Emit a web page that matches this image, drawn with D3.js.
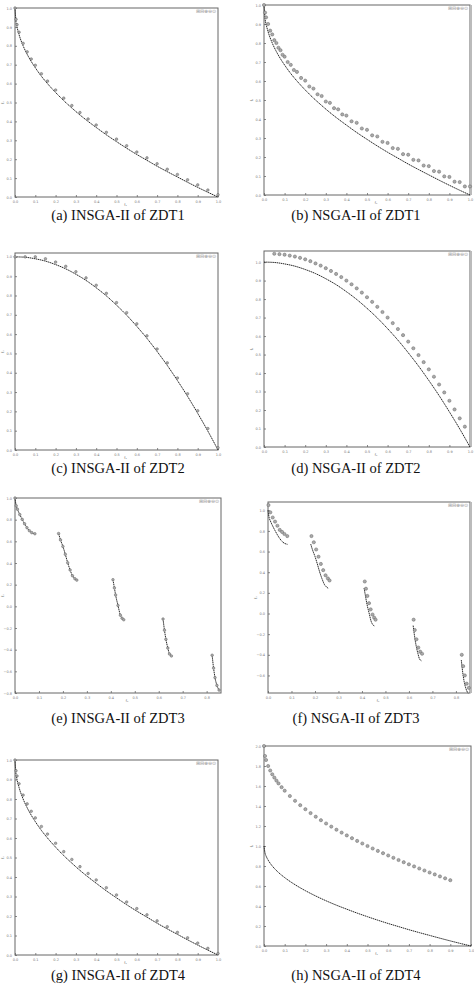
<!DOCTYPE html>
<html>
<head>
<meta charset="utf-8">
<script src="https://cdn.jsdelivr.net/npm/d3@7"></script>
<style>
  body { margin: 0; background: #fff; }
  svg { display: block; }
  .cap { font-family: "Liberation Serif", "DejaVu Serif", serif; font-size: 14.5px; fill: #111; }
  .tick text { font-family: "DejaVu Sans", sans-serif; font-size: 3.5px; fill: #777; }
</style>
</head>
<body>
<svg id="fig" width="474" height="988"></svg>
<script>
// ---- data ----
var zdt1F1 = [0,.005,.01,.02,.04,.06,.08,.1,.13,.16,.2,.24,.28,.32,.36,.4,.45,.5,.55,.6,.65,.7,.75,.8,.85,.9,.95,1]
var zdt1True = [1,.929,.9,.859,.8,.755,.717,.684,.639,.6,.553,.51,.471,.434,.4,.368,.329,.293,.258,.225,.194,.163,.134,.106,.078,.051,.025,0]
var zdt1InsgaF2 = [1,.94,.912,.872,.813,.768,.73,.697,.652,.613,.566,.523,.484,.447,.413,.381,.342,.306,.271,.238,.207,.176,.147,.119,.091,.064,.037,.012]
var zdt1NsgaF2 = [1,.96,.935,.9,.845,.8,.762,.728,.685,.648,.602,.56,.521,.485,.451,.418,.38,.343,.308,.274,.243,.212,.182,.152,.123,.095,.068,.045]
var zdt1NsgaF1b = [.03,.05,.07,.09,.115,.145,.18,.22,.26,.3,.34,.38,.425,.475,.525,.575,.625,.675,.725,.775,.825,.875,.925,.975]
var zdt1NsgaF2b = [.865,.815,.775,.738,.7,.658,.616,.571,.53,.492,.457,.424,.388,.35,.314,.28,.247,.215,.185,.155,.126,.098,.07,.045]
var zdt4InsgaF2 = [1,.945,.918,.878,.82,.775,.737,.703,.659,.62,.573,.53,.49,.453,.418,.385,.345,.308,.272,.238,.206,.175,.145,.116,.088,.061,.034,.008]

var zdt2F1 = [0,.05,.1,.15,.2,.25,.3,.35,.4,.45,.5,.55,.6,.65,.7,.75,.8,.85,.9,.95,1]
var zdt2True = [1,.998,.99,.978,.96,.938,.91,.878,.84,.798,.75,.698,.64,.578,.51,.438,.36,.278,.19,.098,0]
var zdt2InsgaF2 = [1,1.0,1.0,.99,.973,.951,.923,.891,.853,.811,.763,.711,.653,.591,.523,.451,.373,.291,.203,.111,.012]
var zdt2NsgaF2 = [null,1.045,1.04,1.03,1.015,.993,.967,.936,.9,.858,.81,.758,.7,.638,.57,.497,.42,.338,.25,.155,null]
var zdt2NsgaF1b = [.075,.125,.175,.225,.275,.325,.375,.425,.475,.525,.575,.625,.675,.725,.775,.825,.875,.925,.975]
var zdt2NsgaF2b = [1.043,1.035,1.023,1.005,.981,.952,.919,.88,.835,.785,.73,.67,.605,.534,.459,.38,.295,.203,.11]

// ZDT3 true front, five disconnected pieces
var zdt3Seg1 = [[0,1],[.005,.928],[.01,.897],[.02,.847],[.03,.803],[.04,.762],[.05,.726],[.06,.698],[.07,.68],[.083,.67]]
var zdt3Seg2 = [[.182,.672],[.19,.613],[.2,.553],[.21,.48],[.22,.402],[.23,.336],[.24,.282],[.25,.255],[.258,.242]]
var zdt3Seg3 = [[.409,.246],[.415,.17],[.42,.105],[.43,.008],[.44,-.082],[.447,-.11],[.454,-.124]]
var zdt3Seg4 = [[.618,-.117],[.624,-.22],[.63,-.304],[.638,-.385],[.645,-.44],[.653,-.458]]
var zdt3Seg5 = [[.823,-.451],[.829,-.57],[.835,-.658],[.843,-.73],[.852,-.773]]
var zdt3Nsga = [[.002,1.05],[.01,.98],[.02,.93],[.03,.89],[.04,.85],[.05,.81],[.06,.79],[.07,.77],[.082,.75],
  [.185,.75],[.195,.69],[.205,.62],[.215,.55],[.225,.48],[.235,.42],[.245,.37],[.255,.34],[.262,.32],
  [.412,.31],[.417,.24],[.423,.17],[.43,.1],[.437,.04],[.445,-.01],[.452,-.04],[.458,-.06],
  [.62,-.06],[.625,-.16],[.632,-.25],[.64,-.33],[.648,-.37],[.656,-.39],
  [.825,-.4],[.831,-.51],[.838,-.6],[.846,-.68],[.855,-.72]]

var zdt4NsgaF1 = [0,.005,.01,.02,.03,.05,.07,.1,.15,.2,.25,.3,.35,.4,.45,.5,.55,.6,.65,.7,.75,.8,.85,.9]
var zdt4NsgaF2 = [2,1.9,1.86,1.8,1.755,1.684,1.626,1.553,1.452,1.368,1.293,1.225,1.163,1.106,1.051,1.0,.951,.905,.86,.817,.775,.735,.696,.658]
var zdt4NsgaF1b = [.04,.06,.085,.125,.175,.225,.275,.325,.375,.425,.475,.525,.575,.625,.675,.725,.775,.825,.875]
var zdt4NsgaF2b = [1.717,1.654,1.588,1.5,1.408,1.329,1.258,1.194,1.134,1.078,1.025,.975,.928,.882,.838,.796,.755,.716,.677]
var zdt4TrueF1 = [0,.005,.01,.02,.03,.05,.07,.1,.15,.2,.25,.3,.35,.4,.45,.5,.55,.6,.65,.7,.75,.8,.85,.9,.95,1]
var zdt4True = [1,.929,.9,.859,.827,.776,.735,.684,.613,.553,.5,.452,.408,.368,.329,.293,.258,.225,.194,.163,.134,.106,.078,.051,.025,0]

var captions = ["(a) INSGA-II of ZDT1","(b) NSGA-II of ZDT1","(c) INSGA-II of ZDT2","(d) NSGA-II of ZDT2",
  "(e) INSGA-II of ZDT3","(f) NSGA-II of ZDT3","(g) INSGA-II of ZDT4","(h) NSGA-II of ZDT4"]

function zip(a, b){ return a.map(function(v,i){ return [v, b[i]] }).filter(function(p){ return p[1] != null }) }

var panels = [
  {box:[15,8,218,197], cap:[118,220], xd:[0,1], yd:[0,1], lines:[zip(zdt1F1,zdt1True)], pts:zip(zdt1F1,zdt1InsgaF2), r:1.3},
  {box:[264,5,470,195], cap:[356,220], xd:[0,1], yd:[0,1], lines:[zip(zdt1F1,zdt1True)], pts:zip(zdt1F1,zdt1NsgaF2).concat(zip(zdt1NsgaF1b,zdt1NsgaF2b)), bar:true},
  {box:[15,253,218,450], cap:[118,473], xd:[0,1], yd:[0,1.02], lines:[zip(zdt2F1,zdt2True)], pts:zip(zdt2F1,zdt2InsgaF2), r:1.3},
  {box:[264,251,470,447], cap:[356,473], xd:[0,1], yd:[0,1.06], lines:[zip(zdt2F1,zdt2True)], pts:zip(zdt2F1,zdt2NsgaF2).concat(zip(zdt2NsgaF1b,zdt2NsgaF2b)), bar:true},
  {box:[15,498,221,693], cap:[118,723], xd:[0,.86], yd:[-.8,1], lines:[zdt3Seg1,zdt3Seg2,zdt3Seg3,zdt3Seg4,zdt3Seg5], pts:[].concat(zdt3Seg1,zdt3Seg2,zdt3Seg3,zdt3Seg4,zdt3Seg5), r:1.3},
  {box:[268,502,470,693], cap:[356,723], xd:[0,.86], yd:[-.77,1.08], lines:[zdt3Seg1,zdt3Seg2,zdt3Seg3,zdt3Seg4,zdt3Seg5], pts:zdt3Nsga, bar:true},
  {box:[15,760,218,955], cap:[118,980], xd:[0,1], yd:[0,1], lines:[zip(zdt1F1,zdt1True)], pts:zip(zdt1F1,zdt4InsgaF2), r:1.3},
  {box:[264,746,471,946], cap:[356,980], xd:[0,1], yd:[0,2], lines:[zip(zdt4TrueF1,zdt4True)], pts:zip(zdt4NsgaF1,zdt4NsgaF2).concat(zip(zdt4NsgaF1b,zdt4NsgaF2b))}
]

var svg = d3.select("#fig")

panels.forEach(function(p, i){
  var x = d3.scaleLinear().domain(p.xd).range([p.box[0], p.box[2]])
  var y = d3.scaleLinear().domain(p.yd).range([p.box[3], p.box[1]])
  var g = svg.append("g")

  g.append("g").attr("transform","translate(0,"+p.box[3]+")")
    .call(d3.axisBottom(x).ticks(10).tickSizeInner(-2).tickSizeOuter(0).tickPadding(4))
  g.append("g").attr("transform","translate("+p.box[0]+",0)")
    .call(d3.axisLeft(y).ticks(9).tickSizeInner(-2).tickSizeOuter(0).tickPadding(3))
  g.selectAll(".domain").remove()
  g.selectAll(".tick line").attr("stroke","#888")

  g.append("rect").attr("x",p.box[0]).attr("y",p.box[1])
    .attr("width",p.box[2]-p.box[0]).attr("height",p.box[3]-p.box[1])
    .attr("fill","none").attr("stroke","#666").attr("stroke-width",1)
  if (p.bar) g.append("line").attr("x1",p.box[2]+1).attr("x2",p.box[2]+1)
    .attr("y1",p.box[1]).attr("y2",p.box[3]).attr("stroke","#bbb").attr("stroke-width",2)

  g.append("text").attr("x",(p.box[0]+p.box[2])/2 + 9).attr("y",p.box[3]+8.5)
    .attr("text-anchor","middle").style("font","4px sans-serif").attr("fill","#777").text("f\u2081")
  g.append("text").attr("transform","translate("+(p.box[0]-11)+","+((p.box[1]+p.box[3])/2)+") rotate(-90)")
    .attr("text-anchor","middle").style("font","4px sans-serif").attr("fill","#777").text("f\u2082")
  g.append("text").attr("x",p.box[2]-2).attr("y",p.box[1]+5).attr("text-anchor","end")
    .style("font","5px sans-serif").attr("fill","#999").text("\u229E\u229F\u2295\u2296\u2299")

  var line = d3.line().x(function(d){ return x(d[0]) }).y(function(d){ return y(d[1]) }).curve(d3.curveMonotoneX)
  p.lines.forEach(function(l){
    g.append("path").attr("d", line(l)).attr("fill","none").attr("stroke","#111")
      .attr("stroke-width",0.9).attr("stroke-dasharray","1.5,0.6")
  })

  g.selectAll("circle").data(p.pts).join("circle")
    .attr("cx",function(d){ return x(d[0]) }).attr("cy",function(d){ return y(d[1]) })
    .attr("r",p.r || 1.6).attr("fill","#aaa").attr("stroke","#666").attr("stroke-width",0.5)

  svg.append("text").attr("class","cap").attr("x",p.cap[0]).attr("y",p.cap[1])
    .attr("text-anchor","middle").text(captions[i])
})
</script>
</body>
</html>
